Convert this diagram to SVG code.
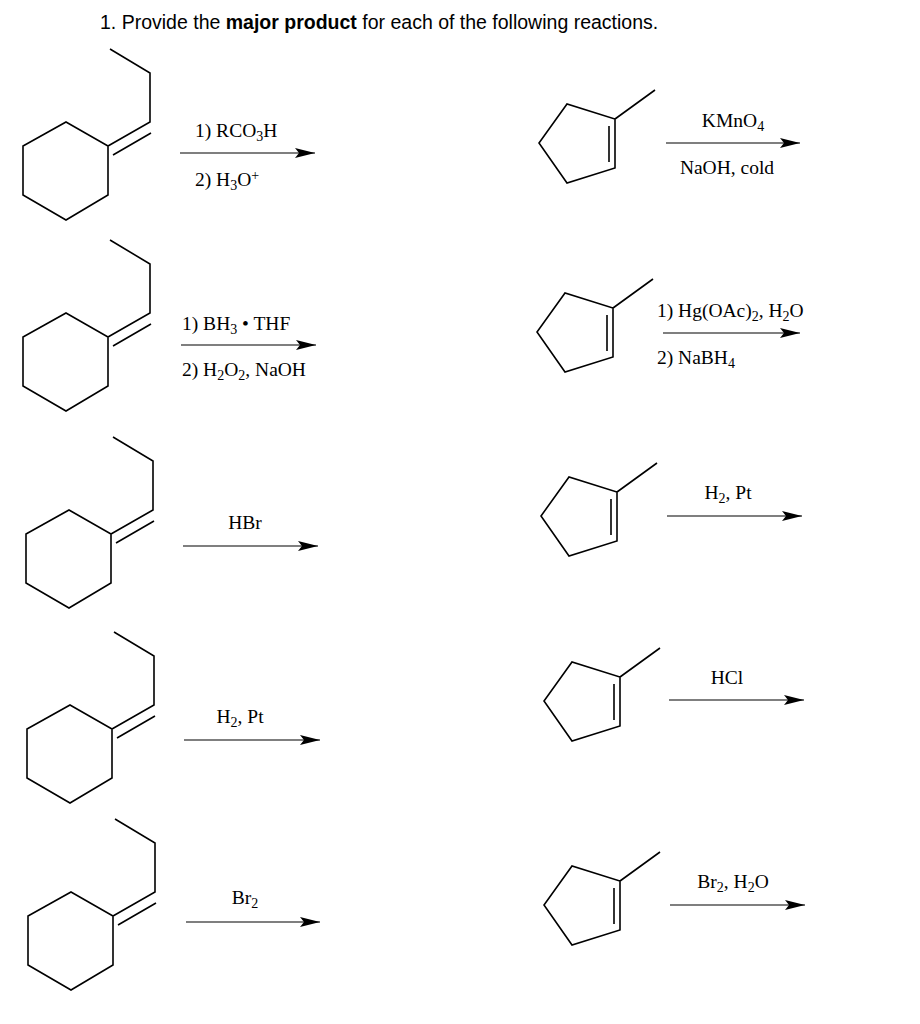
<svg xmlns="http://www.w3.org/2000/svg" width="920" height="1024" viewBox="0 0 920 1024">
<style>
.b{fill:none;stroke:#000;stroke-width:1.6;stroke-linejoin:miter}
.a{stroke:#000;stroke-width:1.2}
.t{font-family:"Liberation Serif",serif;font-size:19.5px;fill:#000}
.t tspan.s{font-size:14px}
.h{font-family:"Liberation Sans",Arial,sans-serif;font-size:19.5px;fill:#000}
</style>
<defs>
<marker id="ah" viewBox="0 0 20 10" refX="20" refY="5" markerWidth="20" markerHeight="10" markerUnits="userSpaceOnUse" orient="auto"><path d="M0,0 L20,5 L0,10 L4,5 Z" fill="#000"/></marker>
<g id="hex"><path class="b" d="M66,122 L108,146 L108,195 L66,220 L23,195 L23,146 Z M108,146 L150,122 L150,73 L110,49 M113,155 L151,133"/></g>
<g id="pent"><path class="b" d="M615,119 L615,168 L567,183 L539,143 L567,104 Z M615,119 L655,90 M609,126 L609,162"/></g>
</defs>
<text class="h" x="100" y="29">1. Provide the <tspan font-weight="bold">major product</tspan> for each of the following reactions.</text>
<g id="connectors">
<line class="a" x1="180" y1="153" x2="315" y2="153" marker-end="url(#ah)"/>
<line class="a" x1="666" y1="143" x2="800" y2="143" marker-end="url(#ah)"/>
<line class="a" x1="181" y1="345" x2="316" y2="345" marker-end="url(#ah)"/>
<line class="a" x1="663" y1="333" x2="800" y2="333" marker-end="url(#ah)"/>
<line class="a" x1="183" y1="546" x2="318" y2="546" marker-end="url(#ah)"/>
<line class="a" x1="667" y1="516" x2="802" y2="516" marker-end="url(#ah)"/>
<line class="a" x1="184" y1="740" x2="320" y2="740" marker-end="url(#ah)"/>
<line class="a" x1="669" y1="700" x2="804" y2="700" marker-end="url(#ah)"/>
<line class="a" x1="186" y1="922" x2="320" y2="922" marker-end="url(#ah)"/>
<line class="a" x1="670" y1="905" x2="805" y2="905" marker-end="url(#ah)"/>
</g>
<g id="r1l"><use href="#hex"/>
<text class="t" x="195" y="137">1) RCO<tspan class="s" dy="4">3</tspan><tspan dy="-4">H</tspan></text>
<text class="t" x="195" y="186">2) H<tspan class="s" dy="4">3</tspan><tspan dy="-4">O</tspan><tspan class="s" dy="-6">+</tspan></text></g>
<g id="r1r"><use href="#pent"/>
<text class="t" x="733" y="127" text-anchor="middle">KMnO<tspan class="s" dy="4">4</tspan></text>
<text class="t" x="727" y="174" text-anchor="middle">NaOH, cold</text></g>
<g id="r2l"><use href="#hex" transform="translate(0,191)"/>
<text class="t" x="182" y="330">1) BH<tspan class="s" dy="4">3</tspan><tspan dy="-4"> • THF</tspan></text>
<text class="t" x="182" y="376">2) H<tspan class="s" dy="4">2</tspan><tspan dy="-4">O</tspan><tspan class="s" dy="4">2</tspan><tspan dy="-4">, NaOH</tspan></text></g>
<g id="r2r"><use href="#pent" transform="translate(-2,189)"/>
<text class="t" x="657" y="317">1) Hg(OAc)<tspan class="s" dy="4">2</tspan><tspan dy="-4">, H</tspan><tspan class="s" dy="4">2</tspan><tspan dy="-4">O</tspan></text>
<text class="t" x="657" y="364">2) NaBH<tspan class="s" dy="4">4</tspan></text></g>
<g id="r3l"><use href="#hex" transform="translate(3,388)"/>
<text class="t" x="245" y="529" text-anchor="middle">HBr</text></g>
<g id="r3r"><use href="#pent" transform="translate(2,373)"/>
<text class="t" x="728" y="499" text-anchor="middle">H<tspan class="s" dy="4">2</tspan><tspan dy="-4">, Pt</tspan></text></g>
<g id="r4l"><use href="#hex" transform="translate(4,583)"/>
<text class="t" x="240" y="723" text-anchor="middle">H<tspan class="s" dy="4">2</tspan><tspan dy="-4">, Pt</tspan></text></g>
<g id="r4r"><use href="#pent" transform="translate(5,558)"/>
<text class="t" x="727" y="684" text-anchor="middle">HCl</text></g>
<g id="r5l"><use href="#hex" transform="translate(5,770)"/>
<text class="t" x="245" y="904" text-anchor="middle">Br<tspan class="s" dy="4">2</tspan></text></g>
<g id="r5r"><use href="#pent" transform="translate(5,762)"/>
<text class="t" x="733" y="888" text-anchor="middle">Br<tspan class="s" dy="4">2</tspan><tspan dy="-4">, H</tspan><tspan class="s" dy="4">2</tspan><tspan dy="-4">O</tspan></text></g>
</svg>
